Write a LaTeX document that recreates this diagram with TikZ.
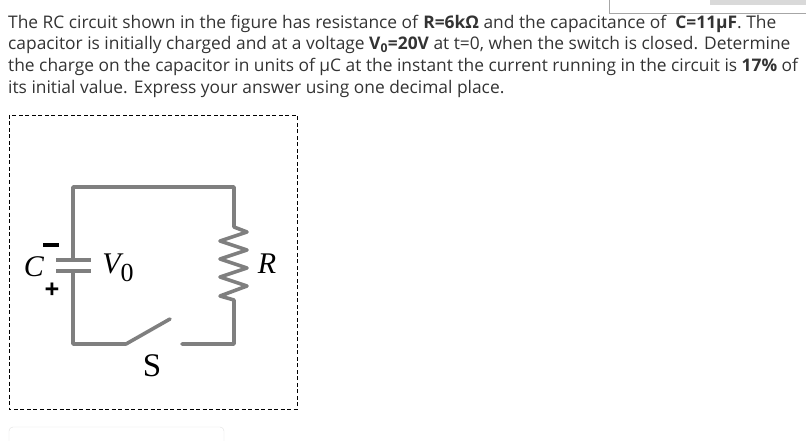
\documentclass[tikz,border=0pt]{standalone}
\usepackage{fontspec}
\setmainfont{Open Sans}
\newfontfamily\labelfont{Liberation Serif}
\usetikzlibrary{positioning}
\definecolor{wire}{HTML}{7F7F7F}
\definecolor{textgray}{HTML}{333333}
\tikzset{
  textline/.style={anchor=base west,inner sep=0pt,text=textgray,font=\fontsize{17.37}{20}\selectfont},
  sym/.style={inner sep=0pt,font=\labelfont\itshape\fontsize{30}{32}\selectfont},
  signmark/.style={inner sep=0pt,font=\bfseries\fontsize{26}{28}\selectfont},
  wireline/.style={draw=wire,line width=3.6pt,line join=round,line cap=round}
}
\begin{document}
\begin{tikzpicture}[x=1pt,y=-1pt]
  \useasboundingbox (0,0) rectangle (806,441);

  % page furniture
  \fill[black!15] (710,0) rectangle (806,5);
  \draw[black!35,semithick] (609,0) -- (609,13) -- (806,13);
  \draw[black!12,rounded corners=4pt] (9,445) -- (9,427) -- (224,427) -- (224,445);

  % question text
  \node[textline] (la) at (8,29) {The RC circuit shown in the figure has resistance of \textbf{R=6kΩ} and the capacitance of~ \textbf{C=11μF}. The};
  \node[textline] (lb) at (8,50) {capacitor is initially charged and at a voltage \textbf{V\textsubscript{0}=20V} at t=0, when the switch is closed. Determine};
  \node[textline] (lc) at (8,72) {the charge on the capacitor in units of μC at the instant the current running in the circuit is \textbf{17\%} of};
  \node[textline] (ld) at (8,94) {its initial value. Express your answer using one decimal place.};

  % frame
  \draw[black,dashed,dash pattern=on 4pt off 2.5pt,semithick] (9,115) rectangle (297,409);

  % circuit points
  \coordinate (TL) at (73,187);
  \coordinate (TR) at (234,187);
  \coordinate (BL) at (73,344);
  \coordinate (BR) at (234,344);
  \coordinate (Ca) at (73,260);
  \coordinate (Cb) at (73,271);
  \coordinate (Ra) at (234,227);
  \coordinate (Rb) at (234,300);
  \coordinate (Sa) at (126,344);
  \coordinate (Sb) at (170,319);
  \coordinate (Sc) at (182,344);

  \draw[wireline] (Ca) -- (TL) -- (TR) -- (Ra)
    -- (247,232) -- (220,241) -- (247,250) -- (220,259) -- (247,268)
    -- (220,277) -- (247,286) -- (220,296) -- (Rb) -- (BR) -- (Sc);
  \draw[wireline] (Cb) -- (BL) -- (Sa) -- (Sb);
  \draw[wireline,line cap=butt] (56,260) -- (91,260);
  \draw[wireline,line cap=butt] (56,271) -- (91,271);

  % labels
  \node[sym] (C) at (34,267) {C};
  \node[sym] (V) at (118,268) {V\raisebox{-8pt}{\labelfont\upshape\fontsize{26}{28}\selectfont 0}};
  \node[sym] (R) at (267,264) {R};
  \node[sym,font=\labelfont\fontsize{33}{36}\selectfont] (S) at (152,366) {S};
  \node[signmark] (minus) at (51,245) {\rule{16pt}{4pt}};
  \node[signmark] (plus) at (52,291) {+};
\end{tikzpicture}
\end{document}
